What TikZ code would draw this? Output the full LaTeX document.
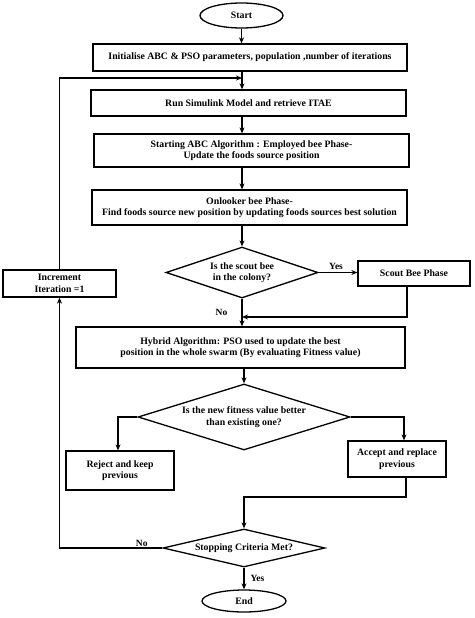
\documentclass[tikz,border=0pt]{standalone}
\usepackage{fontspec}
\setmainfont{Liberation Serif}
\usetikzlibrary{shapes.geometric,arrows.meta}
\begin{document}
\begin{tikzpicture}[x=1pt,y=-1pt,
  every node/.style={font=\bfseries\fontsize{9.8}{11.5}\selectfont, align=center, inner sep=0pt},
  box/.style={draw, line width=1.3pt, rectangle},
  term/.style={draw, line width=1.3pt, ellipse},
  dec/.style={draw, line width=1.3pt, diamond},
  lbl/.style={font=\bfseries\fontsize{9.5}{11}\selectfont},
  arr/.style={line width=1.3pt, -{Stealth[length=6pt,width=5pt]}},
  ln/.style={line width=1.3pt}]
\useasboundingbox (0,0) rectangle (474,618);
\node[term, minimum width=83, minimum height=25] (start) at (241.5,15.5) {Start};
\node[box, minimum width=314, minimum height=27] (init) at (250,57.5) {Initialise ABC \& PSO parameters, population ,number of iterations};
\node[box, minimum width=315, minimum height=26] (run) at (248.5,103) {Run Simulink Model and retrieve ITAE};
\node[box, minimum width=315, minimum height=33] (emp) at (251.5,150.5) {Starting ABC Algorithm : Employed bee Phase-\\Update the foods source position};
\node[box, minimum width=315, minimum height=35] (onl) at (249.5,207.5) {Onlooker bee Phase-\\Find foods source new position by updating foods sources best solution};
\node[dec, minimum width=152, minimum height=51, aspect=3] (d1) at (242,272.5) {Is the scout bee\\in the colony?};
\node[box, minimum width=112, minimum height=25] (scout) at (414,273.5) {Scout Bee Phase};
\node[box, minimum width=329, minimum height=41] (hyb) at (240.5,347.5) {Hybrid Algorithm: PSO used to update the best\\position in the whole swarm (By evaluating Fitness value)};
\node[dec, minimum width=212, minimum height=66, aspect=3.2] (d2) at (244,417) {Is the new fitness value better\\than existing one?};
\node[box, minimum width=108, minimum height=39] (rej) at (120,470.5) {Reject and keep\\previous};
\node[box, minimum width=98, minimum height=36] (acc) at (397,459) {Accept and replace\\previous};
\node[dec, minimum width=162, minimum height=38, aspect=4.3] (d3) at (244,548) {Stopping Criteria Met?};
\node[box, minimum width=113, minimum height=27] (inc) at (59.5,283.5) {Increment\\Iteration =1};
\node[term, minimum width=84, minimum height=22] (end) at (244,601) {End};
\coordinate (mx) at (242,0);
\coordinate (loopin) at (242,78);
\coordinate (scj) at (242,317);
\coordinate (accj) at (244,497);

\draw[arr] (start.south) -- (start.south |- init.north);
\draw[ln] (mx |- init.south) -- (loopin);
\draw[arr] (loopin) -- (mx |- run.north);
\draw[arr] (mx |- run.south) -- (mx |- emp.north);
\draw[arr] (mx |- emp.south) -- (mx |- onl.north);
\draw[arr] (mx |- onl.south) -- (d1.north);
\draw[arr] (d1.east) -- node[lbl, above, pos=0.45, yshift=2pt] {Yes} (d1.east -| scout.west);
\draw[arr] (d1.south) -- node[lbl, left, pos=0.5, xshift=-14pt] {No} (d1.south |- hyb.north);
\draw[arr] (scout.south -| 407,0) -- (407,317) -- (scj);
\draw[arr] (hyb.south -| d2.north) -- (d2.north);
\draw[arr] (d2.west) -| (rej.north -| 118,0);
\draw[arr] (d2.east) -| (acc.north -| 404,0);
\draw[arr] (acc.south -| 406,0) |- (accj) -- (d3.north);
\draw[arr] (d3.south) -- node[lbl, right, pos=0.5, xshift=6pt] {Yes} (end.north);
\draw[arr] (d3.west) -- node[lbl, above, pos=0.2, yshift=1pt] {No} (d3.west -| inc.south) -- (inc.south);
\draw[arr] (inc.north) |- (loopin);
\end{tikzpicture}
\end{document}
